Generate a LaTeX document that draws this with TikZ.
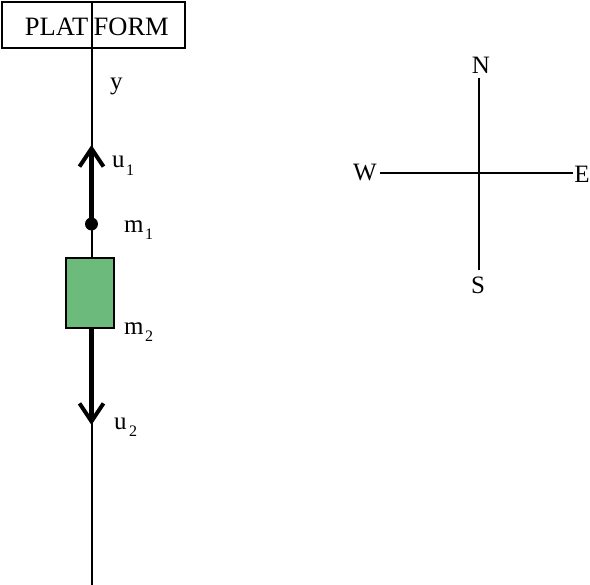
\documentclass[tikz,border=0pt]{standalone}
\usepackage{fontspec}
\setmainfont{Liberation Serif}
\usetikzlibrary{arrows.meta}
\definecolor{boxgreen}{RGB}{108,186,124}
\begin{document}
\begin{tikzpicture}[x=1pt,y=-1pt,
  thinline/.style={line width=2pt},
  thickvec/.style={line width=5pt,-{Straight Barb[length=18pt,width=24pt,line width=4pt]}},
  lbl/.style={font=\fontsize{25}{25}\selectfont, inner sep=0pt, anchor=base west},
  ctr/.style={font=\fontsize{25}{25}\selectfont, inner sep=0pt, anchor=center},
  sub/.style={font=\fontsize{16}{16}\selectfont, inner sep=0pt, anchor=base west}]
\useasboundingbox (0,0) rectangle (590,585);
% platform
\node[draw, line width=2pt, minimum width=183pt, minimum height=46pt, inner sep=0pt] (plat) at (93.5,25) {};
\node[lbl, font=\fontsize{26.5}{26.5}\selectfont, anchor=base east] (platA) at (88.5,36) {PLAT};
\node[lbl, font=\fontsize{26.5}{26.5}\selectfont] (platB) at (93.5,36) {FORM};
% vertical axis
\coordinate (top) at (91.5,2);
\coordinate (bot) at (91.5,585);
\draw[thinline] (top) -- (bot);
\node[lbl] (ylab) at (110,90) {y};
% mass 1 and u1
\node[circle, fill, inner sep=0pt, minimum size=13pt] (m1dot) at (91.5,224) {};
\coordinate (u1tip) at (91.5,145);
\draw[thickvec] (m1dot.center) -- (u1tip);
\node[lbl] (u1) at (112,168) {u};
\node[sub] (u1s) at (u1.base east) [yshift=-8pt, xshift=1pt] {1};
\node[lbl] (m1) at (124,233) {m};
\node[sub] (m1s) at (m1.base east) [yshift=-7pt, xshift=1pt] {1};
% mass 2 and u2
\node[draw, fill=boxgreen, line width=2pt, minimum width=48pt, minimum height=70pt, inner sep=0pt] (m2box) at (90,293.5) {};
\coordinate (u2tip) at (91.5,425);
\draw[thickvec] (m2box.south -| top) -- (u2tip);
\node[lbl] (m2) at (124,335) {m};
\node[sub] (m2s) at (m2.base east) [yshift=-7pt, xshift=1pt] {2};
\node[lbl] (u2) at (114,430) {u};
\node[sub] (u2s) at (u2.base east) [yshift=-7pt, xshift=2pt] {2};
% compass
\node[ctr] (N) at (481,65.5) {N};
\node[ctr] (S) at (478,285) {S};
\node[ctr] (W) at (365,173) {W};
\node[ctr] (E) at (582,174) {E};
\coordinate (ntop) at (479,78);
\coordinate (sbot) at (479,270);
\coordinate (wend) at (380,173);
\coordinate (eend) at (573,173);
\draw[thinline] (ntop) -- (sbot);
\draw[thinline] (wend) -- (eend);
\end{tikzpicture}
\end{document}
